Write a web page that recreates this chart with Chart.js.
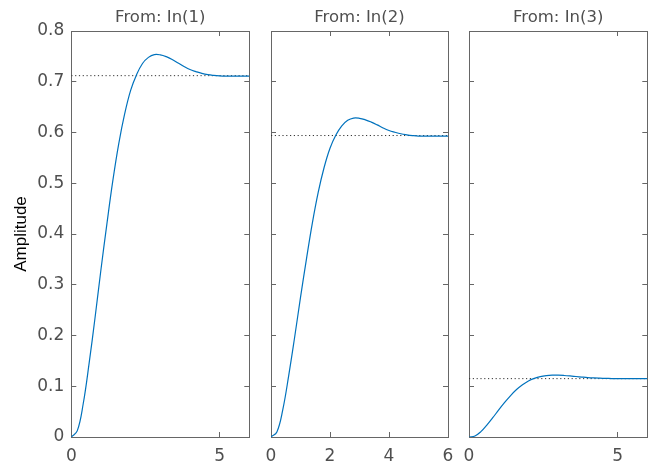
<!DOCTYPE html>
<html lang="en">
<head>
    <meta charset="UTF-8">
    <title>Step Response</title>
    <style>
        body {
            margin: 0;
            padding: 0;
            background: #ffffff;
        }

        .wrap {
            position: relative;
            width: 664px;
            height: 468px;
        }

        .wrap canvas {
            position: absolute;
            left: 0;
            top: 0;
        }
    </style>
    <script src="https://cdn.jsdelivr.net/npm/chart.js"></script>
</head>
<body>
    <div class="wrap">
        <canvas id="in1" width="664" height="468"></canvas>
        <canvas id="in2" width="664" height="468"></canvas>
        <canvas id="in3" width="664" height="468"></canvas>
    </div>

    <script>
        // time axis (s) shared by all three inputs
        const timePoints = [0, 0.2, 0.4, 0.6, 0.8, 1.0, 1.2, 1.4, 1.6, 1.8, 2.0, 2.2, 2.4, 2.6, 2.8, 3.0,
                            3.2, 3.4, 3.6, 3.8, 4.0, 4.2, 4.4, 4.6, 4.8, 5.0, 5.2, 5.4, 5.6, 5.8, 6.0];

        // step response
        const stepIn1 = [0, 0.012, 0.065, 0.145, 0.235, 0.33, 0.42, 0.505, 0.578, 0.637, 0.683, 0.714, 0.736, 0.748, 0.7535, 0.753,
                         0.7495, 0.744, 0.737, 0.73, 0.724, 0.72, 0.7165, 0.714, 0.7125, 0.7115, 0.711, 0.711, 0.711, 0.711, 0.711];
        const stepIn2 = [0, 0.01, 0.054, 0.121, 0.196, 0.275, 0.35, 0.421, 0.482, 0.531, 0.569, 0.595, 0.613, 0.624, 0.6285, 0.628,
                         0.625, 0.6205, 0.615, 0.609, 0.604, 0.6005, 0.5975, 0.5955, 0.594, 0.593, 0.593, 0.593, 0.593, 0.593, 0.593];
        const stepIn3 = [0, 0.002, 0.0105, 0.0235, 0.038, 0.0534, 0.068, 0.0817, 0.0935, 0.103, 0.1105, 0.1155, 0.119, 0.121, 0.1219, 0.1218,
                         0.1212, 0.1203, 0.1192, 0.1181, 0.1171, 0.1164, 0.1159, 0.1155, 0.1152, 0.115, 0.115, 0.115, 0.115, 0.115, 0.115];

        // steady-state (dotted) levels
        const finalValues = [0.712, 0.594, 0.115];

        const panelTitles = ['From: In(1)', 'From: In(2)', 'From: In(3)'];
        const xStep = [5, 2, 5];
        const yTicksStep = 0.1;

        // plot box edges in px: [left, right]
        const boxes = [[71.3, 249.3], [271, 448], [469, 647.3]];
        const boxTop = 31;
        const boxBottom = 437;

        const axisGray = '#666666';
        const labelGray = '#4f4f4f';
        const tickFont = { family: 'DejaVu Sans', size: 17 };

        const innerGrid = {
            drawOnChartArea: false,
            drawTicks: true,
            tickLength: -5,
            tickColor: axisGray,
            tickWidth: 1
        };
        const boxBorder = { display: true, color: axisGray, width: 1 };

        function makePanel(id, idx, values) {
            const left = boxes[idx][0];
            const right = boxes[idx][1];
            const first = idx === 0;
            const yW = first ? 67 : 10;

            new Chart(document.getElementById(id), {
                type: 'scatter',
                data: {
                    datasets: [
                        {
                            data: timePoints.map((t, i) => ({ x: t, y: values[i] })),
                            showLine: true,
                            borderColor: '#0072BD',
                            borderWidth: 1.2,
                            pointRadius: 0,
                            tension: 0.4
                        },
                        {
                            data: [{ x: 0, y: finalValues[idx] }, { x: 6, y: finalValues[idx] }],
                            showLine: true,
                            borderColor: '#333333',
                            borderWidth: 1,
                            borderDash: [1.2, 2.6],
                            pointRadius: 0
                        }
                    ]
                },
                options: {
                    responsive: false,
                    animation: false,
                    layout: {
                        padding: {
                            left: left - yW,
                            right: 664 - right - 10,
                            top: boxTop - 28,
                            bottom: 468 - boxBottom - 31
                        }
                    },
                    plugins: {
                        legend: { display: false },
                        tooltip: { enabled: false }
                    },
                    scales: {
                        x: {
                            type: 'linear',
                            position: 'bottom',
                            min: 0,
                            max: 6,
                            ticks: {
                                stepSize: xStep[idx],
                                includeBounds: false,
                                padding: 14,
                                color: labelGray,
                                font: tickFont,
                                maxRotation: 0
                            },
                            grid: innerGrid,
                            border: boxBorder,
                            afterFit: (s) => { s.height = 31; }
                        },
                        x2: {
                            type: 'linear',
                            position: 'top',
                            min: 0,
                            max: 6,
                            ticks: { stepSize: xStep[idx], includeBounds: false, display: false },
                            grid: innerGrid,
                            border: boxBorder,
                            title: {
                                display: true,
                                text: panelTitles[idx],
                                color: labelGray,
                                font: { family: 'DejaVu Sans', size: 16.5 },
                                padding: { top: 5, bottom: 0 }
                            },
                            afterFit: (s) => { s.height = 28; }
                        },
                        y: {
                            type: 'linear',
                            position: 'left',
                            min: 0,
                            max: 0.8,
                            ticks: {
                                stepSize: yTicksStep,
                                display: first,
                                padding: 12,
                                color: labelGray,
                                font: tickFont
                            },
                            grid: innerGrid,
                            border: boxBorder,
                            title: {
                                display: first,
                                text: 'Amplitude',
                                color: '#000000',
                                font: { family: 'Liberation Sans', size: 17 },
                                padding: { top: 7, bottom: 0 }
                            },
                            afterFit: (s) => { s.width = yW; }
                        },
                        y2: {
                            type: 'linear',
                            position: 'right',
                            min: 0,
                            max: 0.8,
                            ticks: { stepSize: yTicksStep, display: false },
                            grid: innerGrid,
                            border: boxBorder,
                            afterFit: (s) => { s.width = 10; }
                        }
                    }
                }
            });
        }

        makePanel('in1', 0, stepIn1);
        makePanel('in2', 1, stepIn2);
        makePanel('in3', 2, stepIn3);
    </script>
</body>
</html>
